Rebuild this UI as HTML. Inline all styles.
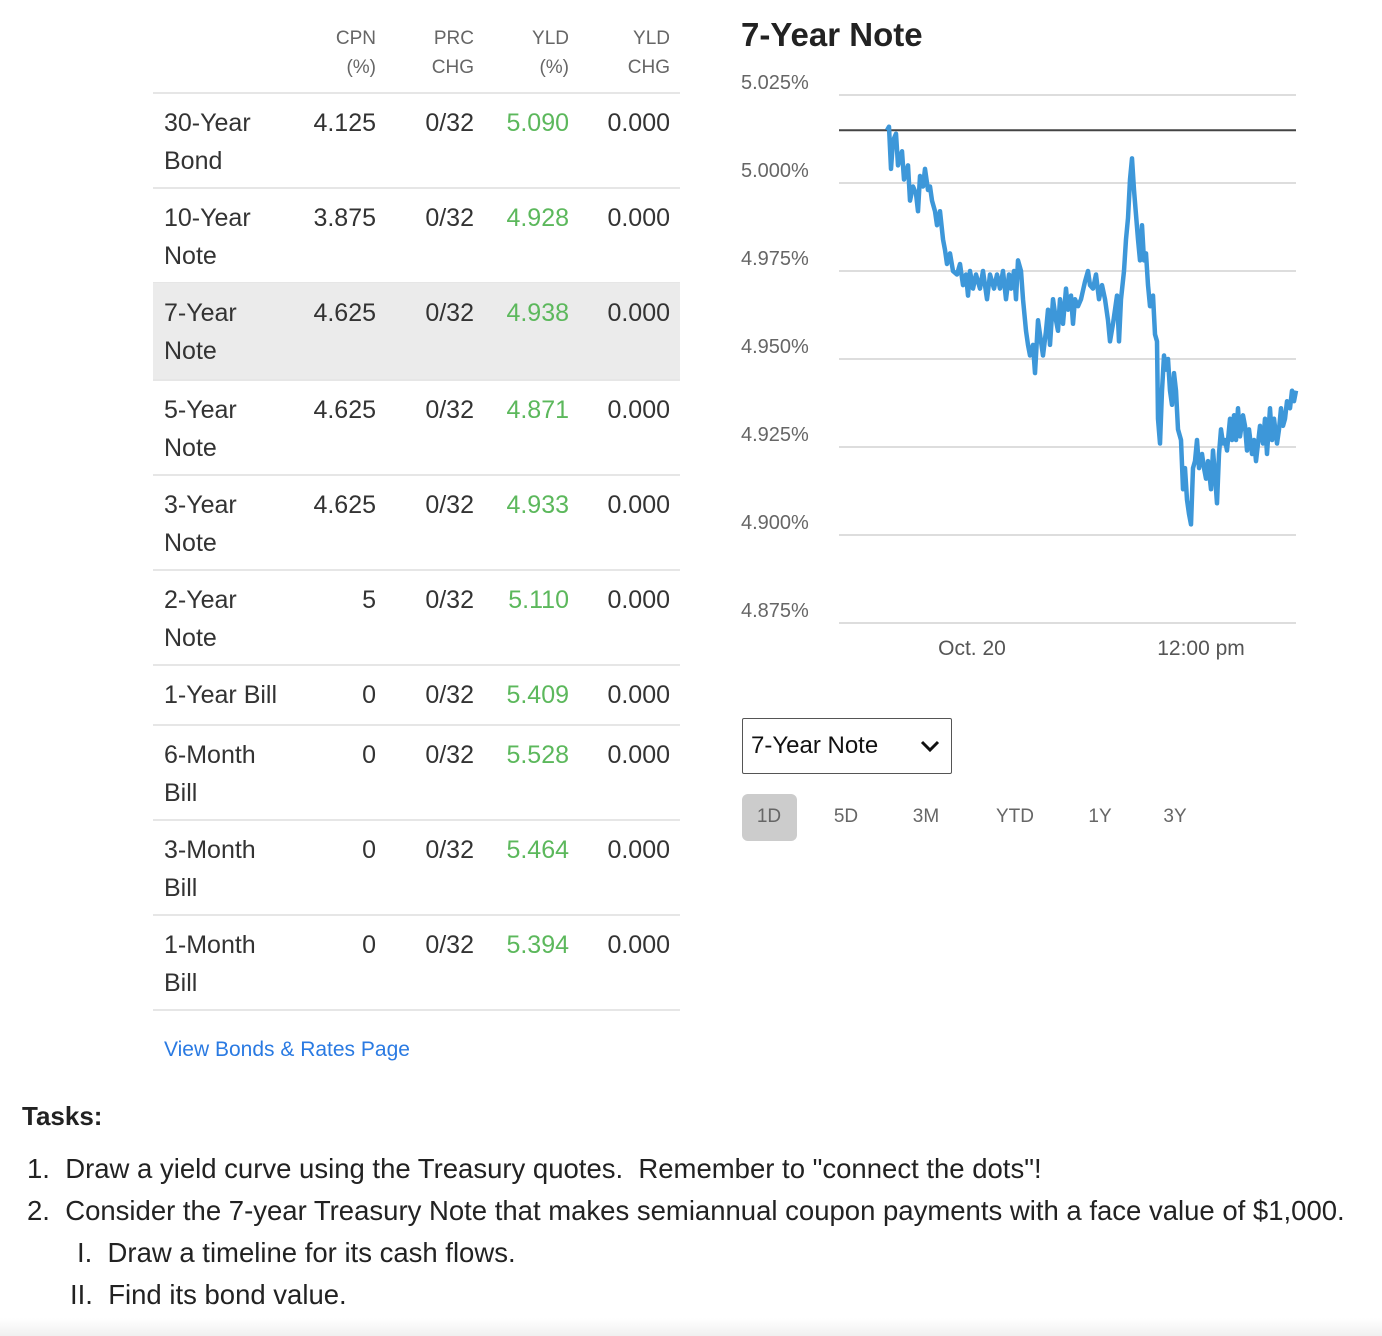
<!DOCTYPE html>
<html><head><meta charset="utf-8"><style>
body{margin:0;width:1382px;height:1336px;background:#fff;position:relative;overflow:hidden;font-family:"Liberation Sans",sans-serif;color:#333}
.a{position:absolute;white-space:nowrap}
.h{font-size:19px;color:#666;text-align:right;line-height:29px}
.c{font-size:25px;color:#333;line-height:38px}
.r{text-align:right}
.g{color:#5cb85c}
.line{position:absolute;left:153px;width:527px;height:2px;background:#e6e6e6}
.yl{font-size:20px;color:#666;left:741px}
.t{font-size:27.5px;color:#222}
.btn{font-size:19px;color:#666;top:803px;line-height:24px;text-align:center;width:60px}
</style></head><body>
<div class="a h" style="left:296px;top:24px;width:80px">CPN<br>(%)</div>
<div class="a h" style="left:394px;top:24px;width:80px">PRC<br>CHG</div>
<div class="a h" style="left:489px;top:24px;width:80px">YLD<br>(%)</div>
<div class="a h" style="left:590px;top:24px;width:80px">YLD<br>CHG</div>
<div class="line" style="top:92px"></div>
<div id="rows"></div>
<div class="a" style="left:164px;top:1038px;font-size:21px;color:#2a7ae2">View Bonds &amp; Rates Page</div>

<div class="a" style="left:741px;top:16px;font-size:33px;font-weight:bold;color:#222">7-Year Note</div>
<svg class="a" style="left:0;top:0" width="1382" height="700" id="chart"></svg>

<div class="a" style="left:742px;top:718px;width:210px;height:56px;border:1px solid #555;border-radius:2px;font-size:24px;color:#111;line-height:54px;padding-left:8px;box-sizing:border-box">7-Year Note
<svg style="position:absolute;left:176px;top:20px" width="22" height="14"><path d="M3 3 L11 11 L19 3" stroke="#111" stroke-width="3" fill="none"/></svg></div>
<div class="a" style="left:742px;top:794px;width:55px;height:47px;background:#ccc;border-radius:6px"></div>
<div class="a btn" style="left:739px;top:805px">1D</div>
<div class="a btn" style="left:816px;top:805px">5D</div>
<div class="a btn" style="left:896px;top:805px">3M</div>
<div class="a btn" style="left:985px;top:805px">YTD</div>
<div class="a btn" style="left:1070px;top:805px">1Y</div>
<div class="a btn" style="left:1145px;top:805px">3Y</div>

<div class="a t" style="left:22px;top:1101px;font-weight:bold;font-size:26px">Tasks:</div>
<div class="a t" style="left:27px;top:1153px">1.&nbsp; Draw a yield curve using the Treasury quotes.&nbsp; Remember to "connect the dots"!</div>
<div class="a t" style="left:27px;top:1195px">2.&nbsp; Consider the 7-year Treasury Note that makes semiannual coupon payments with a face value of $1,000.</div>
<div class="a t" style="left:77px;top:1237px">I.&nbsp; Draw a timeline for its cash flows.</div>
<div class="a t" style="left:70px;top:1279px">II.&nbsp; Find its bond value.</div>
<div class="a" style="left:0;top:1318px;width:1382px;height:18px;background:linear-gradient(#fff,#f0f0f0)"></div>

<script>
const names=[["30-Year","Bond"],["10-Year","Note"],["7-Year","Note"],["5-Year","Note"],["3-Year","Note"],["2-Year","Note"],["1-Year Bill"],["6-Month","Bill"],["3-Month","Bill"],["1-Month","Bill"]];
const cpn=["4.125","3.875","4.625","4.625","4.625","5","0","0","0","0"];
const prc=["0/32","0/32","0/32","0/32","0/32","0/32","0/32","0/32","0/32","0/32"];
const yld=["5.090","4.928","4.938","4.871","4.933","5.110","5.409","5.528","5.464","5.394"];
const ychg=["0.000","0.000","0.000","0.000","0.000","0.000","0.000","0.000","0.000","0.000"];
const rowTops=[93,188,283,380,475,570,665,725,820,915];
const rowBottoms=[188,283,380,475,570,665,725,820,915,1010];

const times=[0,6,12,18,27,33,45,51,63,69,78,87,93,99,108,114,123,129,135,144,150,159,168,174,180,189,198,210,219,228,237,243,249,258,267,279,288,300,309,321,330,339,348,357,366,372,381,387,393,402,408,417,423,429,438,444,453,459,468,477,483,489,498,507,513,519,528,537,543,552,558,564,573,582,594,603,609,618,627,636,645,654,663,669,678,684,690,696,702,711,717,723,729,735,741,747,753,759,765,771,777,783,789,798,804,810,813,819,825,831,837,843,849,855,861,867,873,882,888,894,900,906,912,918,924,930,936,945,951,957,963,972,978,984,990,996,1002,1008,1014,1020,1029,1035,1041,1047,1053,1059,1068,1074,1080,1086,1095,1101,1107,1113,1119,1128,1134,1140,1149,1155,1161,1170,1176,1182,1188,1194,1200,1209,1215,1221,1227];
const yields=[5.015,5.016,5.004,5.012,5.014,5.005,5.009,5.001,5.005,4.995,4.999,4.997,4.992,5.002,4.999,5.004,4.998,4.999,4.995,4.992,4.988,4.992,4.984,4.981,4.977,4.980,4.975,4.974,4.977,4.971,4.974,4.968,4.975,4.970,4.974,4.970,4.975,4.967,4.974,4.970,4.974,4.970,4.975,4.967,4.974,4.970,4.975,4.967,4.978,4.975,4.967,4.958,4.954,4.951,4.954,4.946,4.961,4.957,4.951,4.958,4.964,4.954,4.967,4.961,4.958,4.967,4.960,4.970,4.964,4.968,4.960,4.967,4.965,4.967,4.972,4.975,4.971,4.970,4.974,4.967,4.971,4.967,4.961,4.955,4.960,4.964,4.968,4.955,4.967,4.975,4.984,4.990,5.001,5.007,4.998,4.991,4.984,4.978,4.988,4.978,4.980,4.971,4.965,4.968,4.957,4.955,4.933,4.926,4.941,4.951,4.947,4.950,4.941,4.937,4.946,4.941,4.930,4.927,4.913,4.919,4.910,4.906,4.903,4.919,4.921,4.927,4.919,4.923,4.919,4.916,4.921,4.913,4.924,4.917,4.909,4.923,4.930,4.926,4.927,4.924,4.933,4.927,4.934,4.927,4.936,4.928,4.934,4.931,4.924,4.930,4.923,4.927,4.921,4.926,4.931,4.926,4.933,4.923,4.936,4.927,4.933,4.926,4.930,4.936,4.931,4.933,4.938,4.936,4.941,4.938,4.941];
const yTicks=[5.025,5.000,4.975,4.950,4.925,4.900,4.875];
const yTickLabels=["5.025%","5.000%","4.975%","4.950%","4.925%","4.900%","4.875%"];
const xTicks=[255,942];
const xTickLabels=["Oct. 20","12:00 pm"];
const refYield=5.015;

const rowsEl=document.getElementById('rows');
names.forEach((n,i)=>{
  const top=rowTops[i],h=rowBottoms[i]-top;
  if(i===2){const bg=document.createElement('div');bg.className='a';bg.style.cssText=`left:153px;top:${top}px;width:527px;height:${h}px;background:#ebebeb`;


rowsEl.appendChild(bg);}
  const ty=top+11;
  const mk=(txt,style,name,cls)=>{const d=document.createElement('div');d.className='a c '+(cls||'');d.style.cssText=style+`;top:${ty}px`;d.innerHTML=txt;


rowsEl.appendChild(d);};
  mk(n.join('<br>'),'left:164px','security-name');
  mk(cpn[i],'left:276px;width:100px;text-align:right','coupon');
  mk(prc[i],'left:374px;width:100px;text-align:right','price-change');
  mk(yld[i],'left:469px;width:100px;text-align:right','yield','g');
  mk(ychg[i],'left:570px;width:100px;text-align:right','yield-change');
  const l=document.createElement('div');l.className='line';l.style.top=(rowBottoms[i]-1)+'px';


rowsEl.appendChild(l);
});

const svg=document.getElementById('chart');const NS='http://www.w3.org/2000/svg';
const X0=839,X1=1296,tMax=1227;
const xs=t=>887+t*(X1-887)/tMax;
const ys=v=>95+(5.025-v)/0.025*88;
function el(tag,attrs){const e=document.createElementNS(NS,tag);for(const k in attrs)e.setAttribute(k,attrs[k]);svg.appendChild(e);return e;}
yTicks.forEach((v,i)=>{
  const g=el('line',{x1:X0,x2:X1,y1:ys(v),y2:ys(v),stroke:'#ddd','stroke-width':2});


  const t=el('text',{x:741,y:ys(v)-6,'font-size':20,fill:'#666','font-family':'Liberation Sans, sans-serif'});t.textContent=yTickLabels[i];


});
xTicks.forEach((v,i)=>{
  const t=el('text',{x:xs(v),y:655,'font-size':21,fill:'#555','text-anchor':'middle','font-family':'Liberation Sans, sans-serif'});t.textContent=xTickLabels[i];


});
const ref=el('line',{x1:X0,x2:X1,y1:ys(refYield),y2:ys(refYield),stroke:'#444','stroke-width':2});


const n=Math.min(times.length,yields.length);
let d='';for(let i=0;i<n;i++)d+=(i?'L':'M')+xs(times[i]).toFixed(1)+' '+ys(yields[i]).toFixed(1);
const p=el('path',{d:d,fill:'none',stroke:'#3d97d9','stroke-width':4.5,'stroke-linejoin':'round'});


</script>
</body></html>
